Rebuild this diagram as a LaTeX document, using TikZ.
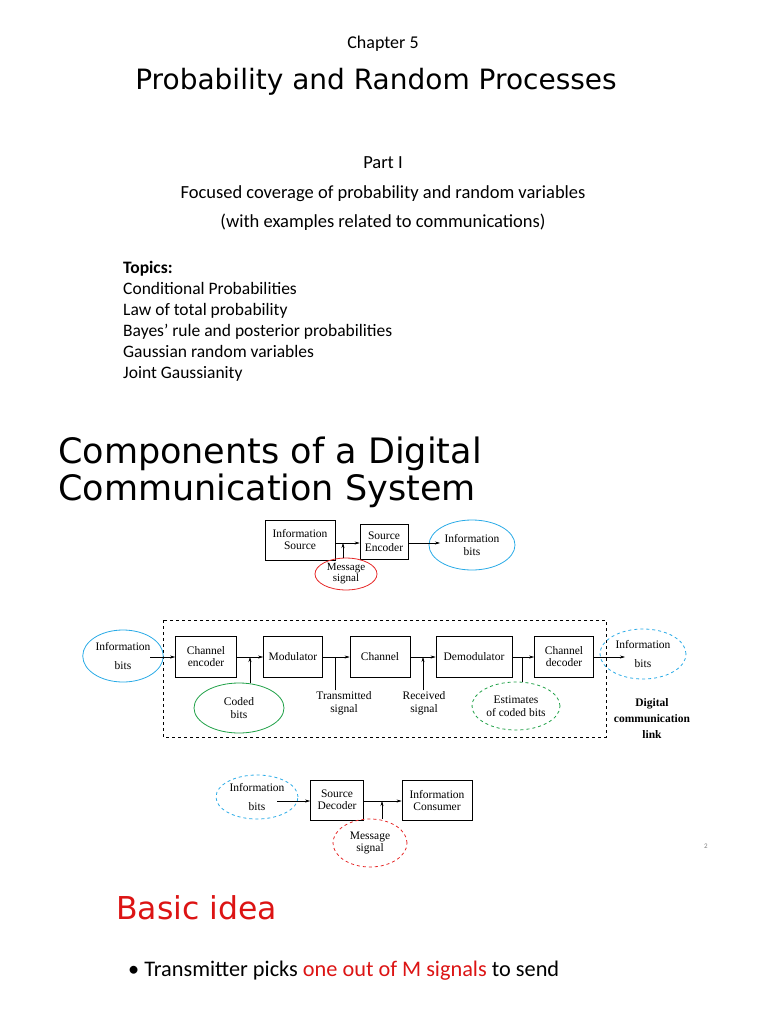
\documentclass[tikz,border=0pt]{standalone}
\usepackage{fontspec}
\setmainfont{Carlito}
\newfontfamily\dv{DejaVu Sans}
\newfontfamily\ser{Liberation Serif}
\usetikzlibrary{arrows.meta,shapes.geometric}
\definecolor{cb}{RGB}{40,170,230}
\definecolor{cg}{RGB}{30,160,70}
\definecolor{cr}{RGB}{230,40,40}
\definecolor{br}{RGB}{220,20,20}
\begin{document}
\begin{tikzpicture}[x=1pt,y=-1pt,
 blk/.style={draw,line width=0.7pt,font=\ser\fontsize{11.5}{12}\selectfont,align=center,inner sep=0pt},
 lab/.style={font=\ser\fontsize{11.5}{12.5}\selectfont,align=center,inner sep=1pt},
 ell/.style={ellipse,draw,line width=0.8pt,minimum width=#1,inner sep=0pt},
 ar/.style={-{Stealth[length=5pt,width=3pt]},line width=0.5pt},
 body/.style={font=\fontsize{18.5}{20}\selectfont,anchor=base}]
\useasboundingbox (0,0) rectangle (768,1024);
\node[font=\fontsize{18}{20}\selectfont,anchor=base] (ch) at (383,49) {Chapter 5};
\node[font=\dv\fontsize{28}{32}\selectfont,anchor=base] (ti) at (376,90) {Probability and Random Processes};
\node[body] (p1) at (383,169) {Part I};
\node[body] (p2) at (383,199) {Focused coverage of probability and random variables};
\node[body] (p3) at (383,227) {(with examples related to communications)};
\node[anchor=north west,align=left,inner sep=0pt,font=\fontsize{17.5}{21}\selectfont] (tp) at (123,261)
 {\textbf{Topics:}\\Conditional Probabilities\\Law of total probability\\Bayes’ rule and posterior probabilities\\Gaussian random variables\\Joint Gaussianity};
\node[anchor=north west,align=left,inner sep=0pt,font=\dv\fontsize{35}{37}\selectfont] (cp) at (58,437)
 {Components of a Digital\\Communication System};
% top diagram
\node[blk,minimum width=70pt,minimum height=40pt] (is) at (300,540) {Information\\Source};
\node[blk,minimum width=48pt,minimum height=35pt] (se) at (384,542) {Source\\Encoder};
\node[ell=86pt,minimum height=50pt,draw=cb,lab] (ib1) at (472,545) {Information\\bits};
\node[ell=62pt,minimum height=22pt,draw=cr,lab,font=\ser\fontsize{11}{10}\selectfont] (ms1) at (346,574) {Message\\signal};
\coordinate (j1) at (343,543);
\draw[ar] (is.east|-j1) -- (se.west|-j1);
\draw[ar] (se.east|-j1) -- (440,543);
\draw[ar] (ms1.north-|j1) -- (j1);
% middle
\draw[dashed,line width=0.7pt] (163,620) rectangle (606,737);
\node[blk,minimum width=61pt,minimum height=41pt] (ce) at (206,657) {Channel\\encoder};
\node[blk,minimum width=59pt,minimum height=41pt] (mo) at (293,657) {Modulator};
\node[blk,minimum width=60pt,minimum height=41pt] (cn) at (380,657) {Channel};
\node[blk,minimum width=76pt,minimum height=41pt] (de) at (474,657) {Demodulator};
\node[blk,minimum width=59pt,minimum height=41pt] (cd) at (564,657) {Channel\\decoder};
\node[ell=80pt,minimum height=52pt,draw=cb,lab,font=\ser\fontsize{11.5}{19}\selectfont] (ib2) at (123,656) {Information\\bits};
\node[ell=86pt,minimum height=50pt,draw=cb,dashed,lab,font=\ser\fontsize{11.5}{19}\selectfont] (ib3) at (643,654) {Information\\bits};
\node[ell=90pt,minimum height=50pt,draw=cg,lab] (cb1) at (239,708) {Coded\\bits};
\node[ell=88pt,minimum height=48pt,draw=cg,dashed,lab] (es) at (516,706) {Estimates\\of coded bits};
\node[lab] (tx) at (344,703) {Transmitted\\signal};
\node[lab] (rx) at (424,703) {Received\\signal};
\node[lab,font=\ser\bfseries\fontsize{11.5}{16}\selectfont] (dl) at (652,719) {Digital\\communication\\link};
\draw[ar] (150,657) -- (ce.west);
\draw[ar] (ce) -- (mo);
\draw[ar] (mo) -- (cn);
\draw[ar] (cn) -- (de);
\draw[ar] (de) -- (cd);
\draw[ar] (cd) -- (625,657);
\draw[ar] (cb1.north-|250,0) -- (250,657);
\draw[line width=0.3pt] (tx.north-|335,0) -- (335,657);
\draw[ar] (rx.north-|423,0) -- (423,657);
\draw[line width=0.3pt] (es.north-|522,0) -- (522,657);
% bottom
\node[ell=82pt,minimum height=44pt,draw=cb,dashed,lab,font=\ser\fontsize{11.5}{19}\selectfont] (ib4) at (257,797) {Information\\bits};
\node[blk,minimum width=53pt,minimum height=40pt] (sd) at (337,800) {Source\\Decoder};
\node[blk,minimum width=70pt,minimum height=40pt] (ic) at (437,800) {Information\\Consumer};
\node[ell=74pt,minimum height=48pt,draw=cr,dashed,lab] (ms2) at (370,843) {Message\\signal};
\draw[ar] (277,801) -- (sd.west|-0,801);
\draw[ar] (sd.east|-0,801) -- (ic.west|-0,801);
\draw[ar] (ms2.north-|382,0) -- (382,801);
\node[font=\fontsize{7}{8}\selectfont,text=gray] (pg) at (706,846) {2};
\node[anchor=base west,inner sep=0pt,text=br,font=\dv\fontsize{31.5}{34}\selectfont] (bi) at (116,919) {Basic idea};
\node[anchor=base west,inner sep=0pt,font=\fontsize{22.3}{24}\selectfont] (bl) at (128,976)
 {\textbullet\ Transmitter picks \textcolor{br}{one out of M signals} to send};
\end{tikzpicture}
\end{document}
